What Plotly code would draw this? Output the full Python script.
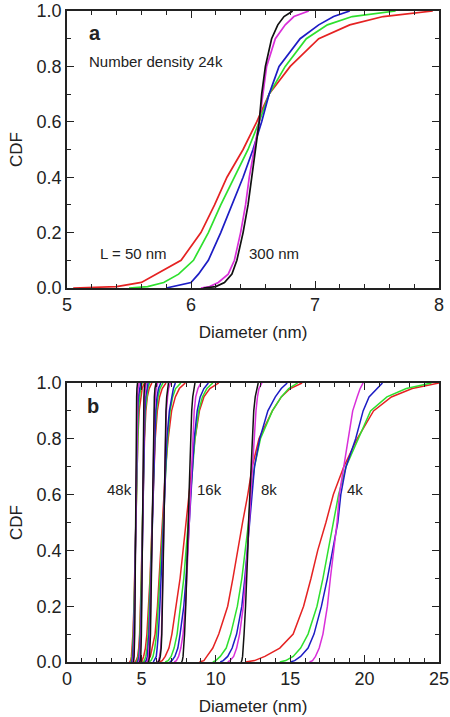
import plotly.graph_objects as go

# CDF levels shared by all curves
LEVELS = [0, 0.005, 0.02, 0.05, 0.1, 0.2, 0.3, 0.4, 0.5, 0.6, 0.7, 0.8, 0.9, 0.95, 0.98, 1.0]

COLOR_NAMES = ["red", "green", "blue", "magenta", "black"]

# Panel a : number density 24k, L = 50 nm (red) ... 300 nm (black)
d24k_red = [5.05, 5.40, 5.60, 5.72, 5.92, 6.08, 6.19, 6.29, 6.42, 6.53, 6.63, 6.80, 7.03, 7.28, 7.55, 7.95]
d24k_green = [5.50, 5.65, 5.78, 5.90, 6.02, 6.14, 6.24, 6.35, 6.46, 6.55, 6.63, 6.76, 6.93, 7.10, 7.30, 7.65]
d24k_blue = [5.80, 5.85, 6.00, 6.06, 6.14, 6.24, 6.33, 6.42, 6.50, 6.57, 6.63, 6.71, 6.88, 7.03, 7.15, 7.28]
d24k_magenta = [6.08, 6.15, 6.22, 6.30, 6.35, 6.40, 6.44, 6.47, 6.51, 6.55, 6.58, 6.61, 6.68, 6.76, 6.83, 6.95]
d24k_black = [6.10, 6.20, 6.27, 6.33, 6.37, 6.42, 6.46, 6.49, 6.52, 6.55, 6.57, 6.60, 6.65, 6.70, 6.75, 6.82]

# Panel b : other number densities
d48k_red = [4.20, 4.28, 4.33, 4.38, 4.43, 4.50, 4.54, 4.58, 4.62, 4.66, 4.70, 4.76, 4.85, 4.95, 5.05, 5.20]
d48k_green = [4.28, 4.33, 4.38, 4.42, 4.46, 4.51, 4.55, 4.58, 4.61, 4.64, 4.68, 4.73, 4.80, 4.88, 4.95, 5.05]
d48k_blue = [4.33, 4.38, 4.42, 4.46, 4.49, 4.53, 4.56, 4.59, 4.61, 4.63, 4.66, 4.70, 4.75, 4.80, 4.86, 4.95]
d48k_magenta = [4.40, 4.44, 4.47, 4.50, 4.52, 4.55, 4.57, 4.59, 4.61, 4.63, 4.65, 4.68, 4.71, 4.74, 4.78, 4.85]
d48k_black = [4.45, 4.48, 4.51, 4.53, 4.55, 4.57, 4.58, 4.59, 4.60, 4.61, 4.62, 4.64, 4.66, 4.68, 4.70, 4.74]

d40k_red = [4.55, 4.65, 4.75, 4.82, 4.88, 4.95, 4.99, 5.03, 5.07, 5.11, 5.15, 5.21, 5.30, 5.40, 5.52, 5.70]
d40k_green = [4.65, 4.72, 4.80, 4.86, 4.91, 4.97, 5.01, 5.04, 5.07, 5.10, 5.14, 5.19, 5.26, 5.34, 5.43, 5.55]
d40k_blue = [4.72, 4.78, 4.85, 4.90, 4.94, 4.99, 5.02, 5.05, 5.07, 5.10, 5.13, 5.17, 5.23, 5.29, 5.36, 5.45]
d40k_magenta = [4.80, 4.85, 4.90, 4.94, 4.97, 5.01, 5.03, 5.05, 5.07, 5.09, 5.11, 5.14, 5.18, 5.22, 5.27, 5.33]
d40k_black = [4.88, 4.92, 4.96, 4.98, 5.00, 5.02, 5.04, 5.05, 5.06, 5.07, 5.09, 5.11, 5.14, 5.17, 5.20, 5.25]

d32k_red = [4.90, 5.05, 5.15, 5.27, 5.37, 5.50, 5.58, 5.65, 5.71, 5.77, 5.84, 5.93, 6.07, 6.22, 6.40, 6.65]
d32k_green = [5.10, 5.20, 5.30, 5.38, 5.45, 5.54, 5.61, 5.67, 5.72, 5.77, 5.83, 5.90, 6.01, 6.12, 6.25, 6.45]
d32k_blue = [5.25, 5.32, 5.40, 5.46, 5.51, 5.58, 5.63, 5.68, 5.72, 5.76, 5.81, 5.87, 5.96, 6.05, 6.15, 6.30]
d32k_magenta = [5.35, 5.42, 5.48, 5.53, 5.57, 5.62, 5.66, 5.69, 5.72, 5.75, 5.78, 5.82, 5.88, 5.94, 6.00, 6.10]
d32k_black = [5.45, 5.50, 5.55, 5.58, 5.61, 5.64, 5.67, 5.70, 5.72, 5.74, 5.76, 5.79, 5.83, 5.87, 5.91, 5.98]

d16k_red = [6.20, 6.40, 6.60, 6.85, 7.05, 7.35, 7.60, 7.80, 8.00, 8.20, 8.40, 8.60, 8.90, 9.20, 9.60, 10.20]
d16k_green = [6.60, 6.80, 7.00, 7.20, 7.40, 7.65, 7.85, 8.00, 8.15, 8.30, 8.45, 8.60, 8.85, 9.10, 9.40, 9.80]
d16k_blue = [6.90, 7.05, 7.25, 7.45, 7.60, 7.85, 8.00, 8.10, 8.20, 8.30, 8.40, 8.55, 8.75, 8.95, 9.20, 9.50]
d16k_magenta = [7.20, 7.35, 7.50, 7.65, 7.80, 7.95, 8.05, 8.15, 8.22, 8.30, 8.38, 8.45, 8.55, 8.65, 8.80, 9.00]
d16k_black = [7.70, 7.75, 7.80, 7.85, 7.90, 7.98, 8.05, 8.10, 8.15, 8.20, 8.25, 8.30, 8.38, 8.45, 8.52, 8.60]

d8k_red = [8.90, 9.20, 9.40, 9.80, 10.20, 10.80, 11.15, 11.45, 11.80, 12.15, 12.45, 12.90, 13.80, 14.40, 15.00, 15.80]
d8k_green = [9.80, 10.00, 10.30, 10.70, 11.00, 11.45, 11.75, 12.00, 12.20, 12.35, 12.60, 13.00, 13.80, 14.40, 14.90, 15.50]
d8k_blue = [10.30, 10.50, 10.80, 11.10, 11.40, 11.75, 11.95, 12.10, 12.25, 12.40, 12.60, 12.95, 13.50, 14.00, 14.40, 14.80]
d8k_magenta = [10.80, 10.95, 11.20, 11.40, 11.60, 11.85, 12.00, 12.15, 12.25, 12.35, 12.45, 12.55, 12.70, 12.80, 12.90, 13.10]
d8k_black = [11.70, 11.75, 11.80, 11.85, 11.90, 12.00, 12.10, 12.15, 12.20, 12.30, 12.35, 12.45, 12.55, 12.65, 12.75, 12.85]

d4k_red = [12.00, 12.60, 13.30, 14.30, 15.20, 15.90, 16.40, 16.85, 17.40, 17.90, 18.60, 19.50, 20.60, 21.80, 23.20, 25.00]
d4k_green = [14.30, 14.70, 15.20, 15.70, 16.20, 16.80, 17.20, 17.55, 17.95, 18.25, 18.75, 19.60, 20.40, 21.50, 22.80, 24.50]
d4k_blue = [15.00, 15.30, 15.70, 16.20, 16.60, 17.10, 17.50, 17.85, 18.20, 18.40, 18.75, 19.40, 19.90, 20.30, 20.80, 21.20]
d4k_magenta = [16.30, 16.50, 16.70, 16.95, 17.20, 17.50, 17.70, 17.95, 18.15, 18.30, 18.60, 18.90, 19.20, 19.50, 19.70, 19.90]

COLORS = {"red": "#e52222", "green": "#2ee02e", "blue": "#1c1cc4",
          "magenta": "#d92fd9", "black": "#111111"}

panel_a = {"red": d24k_red, "green": d24k_green, "blue": d24k_blue,
           "magenta": d24k_magenta, "black": d24k_black}

panel_b = [
    {"red": d48k_red, "green": d48k_green, "blue": d48k_blue, "magenta": d48k_magenta, "black": d48k_black},
    {"red": d40k_red, "green": d40k_green, "blue": d40k_blue, "magenta": d40k_magenta, "black": d40k_black},
    {"red": d32k_red, "green": d32k_green, "blue": d32k_blue, "magenta": d32k_magenta, "black": d32k_black},
    panel_a,
    {"red": d16k_red, "green": d16k_green, "blue": d16k_blue, "magenta": d16k_magenta, "black": d16k_black},
    {"red": d8k_red, "green": d8k_green, "blue": d8k_blue, "magenta": d8k_magenta, "black": d8k_black},
    {"red": d4k_red, "green": d4k_green, "blue": d4k_blue, "magenta": d4k_magenta},
]

fig = go.Figure()

for name in COLOR_NAMES:
    fig.add_trace(go.Scatter(x=panel_a[name], y=LEVELS, mode="lines",
                             line=dict(color=COLORS[name], width=1.7),
                             xaxis="x", yaxis="y", showlegend=False))

for name in COLOR_NAMES:
    for grp in panel_b:
        if name in grp:
            fig.add_trace(go.Scatter(x=grp[name], y=LEVELS, mode="lines",
                                     line=dict(color=COLORS[name], width=1.5),
                                     xaxis="x2", yaxis="y2", showlegend=False))

FONT = "Liberation Sans, Arial, sans-serif"
TXT = "#222222"

axis_common = dict(showline=True, linecolor="#222222", linewidth=1.5, mirror="allticks",
                   ticks="inside", ticklen=7, tickwidth=1.3, tickcolor="#222222",
                   showgrid=False, zeroline=False, automargin=False,
                   tickfont=dict(family=FONT, size=18, color=TXT))

minor_common = dict(ticks="inside", ticklen=4, tickcolor="#222222", tickwidth=1.2)

fig.update_layout(
    width=450, height=717,
    margin=dict(l=67, r=11, t=11, b=55),
    paper_bgcolor="white", plot_bgcolor="white",
    font=dict(family=FONT, color=TXT),
    xaxis=dict(axis_common, domain=[0, 1], anchor="y", range=[5, 8], dtick=1,
               minor=dict(minor_common, dtick=0.2),
               title=dict(text="Diameter (nm)", font=dict(family=FONT, size=17, color=TXT), standoff=12)),
    yaxis=dict(axis_common, domain=[0.5745, 1], anchor="x", range=[0, 1], dtick=0.2,
               tickformat=".1f", minor=dict(minor_common, dtick=0.1),
               title=dict(text="CDF", font=dict(family=FONT, size=17, color=TXT), standoff=10)),
    xaxis2=dict(axis_common, domain=[0, 1], anchor="y2", range=[0, 25], dtick=5,
                minor=dict(minor_common, dtick=1),
                title=dict(text="Diameter (nm)", font=dict(family=FONT, size=17, color=TXT), standoff=12)),
    yaxis2=dict(axis_common, domain=[0, 0.4286], anchor="x2", range=[0, 1], dtick=0.2,
                tickformat=".1f", minor=dict(minor_common, dtick=0.1),
                title=dict(text="CDF", font=dict(family=FONT, size=17, color=TXT), standoff=10)),
)

ann = [
    dict(text="<b>a</b>", x=5.16, y=0.92, xref="x", yref="y", size=20),
    dict(text="Number density 24k", x=5.16, y=0.816, xref="x", yref="y", size=15),
    dict(text="L = 50 nm", x=5.25, y=0.126, xref="x", yref="y", size=15),
    dict(text="300 nm", x=6.45, y=0.126, xref="x", yref="y", size=15),
    dict(text="<b>b</b>", x=1.23, y=0.917, xref="x2", yref="y2", size=20),
    dict(text="48k", x=2.58, y=0.618, xref="x2", yref="y2", size=15),
    dict(text="16k", x=8.63, y=0.618, xref="x2", yref="y2", size=15),
    dict(text="8k", x=12.9, y=0.618, xref="x2", yref="y2", size=15),
    dict(text="4k", x=18.7, y=0.618, xref="x2", yref="y2", size=15),
]
for a in ann:
    fig.add_annotation(text=a["text"], x=a["x"], y=a["y"], xref=a["xref"], yref=a["yref"],
                       xanchor="left", yanchor="middle", showarrow=False,
                       font=dict(family=FONT, size=a["size"], color=TXT))

fig.write_html("out.html")
